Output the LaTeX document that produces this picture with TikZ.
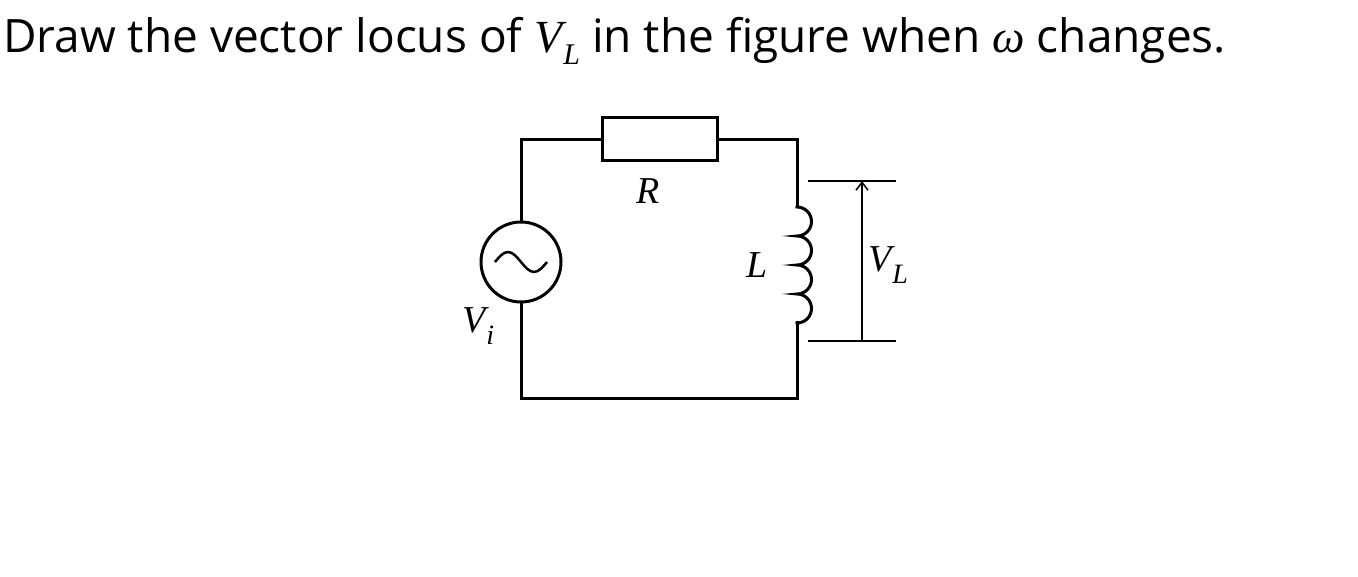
\documentclass[tikz,border=0pt]{standalone}
\usepackage{fontspec}
\setmainfont{Liberation Serif}
\newfontfamily\titlefont{Open Sans}
\usetikzlibrary{arrows.meta}
\begin{document}
\begin{tikzpicture}[x=1pt,y=-1pt,
  wire/.style={line width=3pt,line cap=rect},
  thin/.style={line width=1.5pt},
  lbl/.style={font=\fontsize{38}{40}\selectfont\itshape,inner sep=0}]
\useasboundingbox[fill=white] (0,0) rectangle (1358,577);
\node[anchor=west,inner sep=0,font=\titlefont\fontsize{46}{50}\selectfont] (title) at (3,41)
  {Draw the vector locus of {\rmfamily\itshape V\kern1pt\raisebox{-0.25em}{\fontsize{30}{32}\selectfont L}} in the figure when {\rmfamily\itshape ω} changes.};
\coordinate (tl) at (521,140); \coordinate (tr) at (797,140);
\coordinate (bl) at (521,398); \coordinate (br) at (797,398);
\node[draw,line width=3pt,minimum width=115pt,minimum height=43pt,inner sep=0] (R) at (660,139) {};
\node[draw,circle,line width=3pt,minimum size=80pt,inner sep=0] (src) at (521,262) {};
\draw[line width=2.5pt] (src.center) ++(-26,0) sin ++(13,-10) cos ++(13,10) sin ++(13,10) cos ++(13,-10);
\coordinate (c1) at (797,207); \coordinate (c2) at (797,323);
\draw[wire] (src.north) -- (tl) -- (R.west |- tl);
\draw[wire] (R.east |- tr) -- (tr) -- (c1);
\draw[wire] (c1) arc[start angle=-90,end angle=90,radius=14.5] arc[start angle=-90,end angle=90,radius=14.5] arc[start angle=-90,end angle=90,radius=14.5] arc[start angle=-90,end angle=90,radius=14.5];
\draw[wire] (c2) -- (br) -- (bl) -- (src.south);
\coordinate (t1) at (808,181); \coordinate (t2) at (896,181);
\coordinate (b1) at (808,341); \coordinate (b2) at (896,341);
\coordinate (at) at (862,181); \coordinate (ab) at (862,341);
\draw[thin] (t1) -- (t2); \draw[thin] (b1) -- (b2);
\draw[thin,-{Straight Barb[length=8pt,width=12pt]}] (ab) -- (at);
\node[lbl] (lR) at (648,191) {R};
\node[lbl] (lL) at (757,265) {L};
\node[lbl,anchor=west] (lVL) at (868,265) {V\kern1pt\raisebox{-0.3em}{\fontsize{28}{30}\selectfont L}};
\node[lbl,anchor=west] (lVi) at (462,326) {V\kern1pt\raisebox{-0.3em}{\fontsize{28}{30}\selectfont i}};
\end{tikzpicture}
\end{document}
